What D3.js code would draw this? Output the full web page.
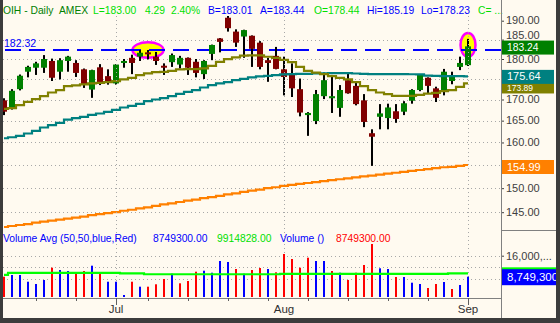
<!DOCTYPE html>
<html><head><meta charset="utf-8">
<script src="https://cdn.jsdelivr.net/npm/d3@7"></script>
<style>
body{margin:0;background:#FFFAF0}
svg{display:block}
text{font-family:"Liberation Sans",Arial,sans-serif}
</style>
</head><body>
<svg id="chart" width="560" height="323"></svg>
<script>
// ---------------- DATA ----------------
const dates = [
 "2007-06-12","2007-06-13","2007-06-14","2007-06-15","2007-06-18","2007-06-19","2007-06-20","2007-06-21","2007-06-22",
 "2007-06-25","2007-06-26","2007-06-27","2007-06-28","2007-06-29",
 "2007-07-02","2007-07-03","2007-07-05","2007-07-06","2007-07-09","2007-07-10","2007-07-11","2007-07-12","2007-07-13",
 "2007-07-16","2007-07-17","2007-07-18","2007-07-19","2007-07-20","2007-07-23","2007-07-24","2007-07-25","2007-07-26","2007-07-27",
 "2007-07-30","2007-07-31",
 "2007-08-01","2007-08-02","2007-08-03","2007-08-06","2007-08-07","2007-08-08","2007-08-09","2007-08-10",
 "2007-08-13","2007-08-14","2007-08-15","2007-08-16","2007-08-17","2007-08-20","2007-08-21","2007-08-22","2007-08-23","2007-08-24",
 "2007-08-27","2007-08-28","2007-08-29","2007-08-30","2007-08-31",
 "2007-09-04"];
const openP  = [169.8,167.9,172.5,176.8,177.8,177.8,179.5,176.8,179.5,179.0,177.4,172.4,177.9,175.7,173.9,179.0,180.3,180.6,181.7,180.6,178.3,179.2,178.6,180.3,179.3,176.2,181.3,185.3,190.8,187.1,185.8,186.0,184.2,179.7,180.8,177.4,176.0,172.5,166.3,164.9,170.8,170.3,168.0,174.7,173.3,169.8,162.1,165.9,165.6,167.2,167.1,169.7,172.3,175.3,172.7,172.1,174.5,178.0,178.44];
const highP  = [170.3,172.5,176.1,178.3,179.3,181.0,180.1,180.2,180.8,179.7,177.6,177.3,178.7,177.4,178.7,180.0,181.1,182.3,182.3,181.8,178.9,181.4,180.8,180.4,180.0,179.7,183.7,185.4,191.3,187.7,187.6,186.1,184.6,180.3,183.1,180.6,178.9,175.1,167.0,172.3,176.6,176.0,173.5,176.4,174.3,171.3,163.0,168.9,169.0,168.9,169.6,172.5,176.0,175.4,173.1,177.5,176.8,180.6,185.19];
const lowP   = [166.3,167.6,172.2,175.4,176.0,176.5,174.5,174.9,176.8,175.5,172.8,170.4,173.5,173.6,173.6,177.8,176.2,179.5,179.9,178.5,176.0,178.0,177.6,176.0,175.4,175.0,179.7,181.7,187.1,183.1,180.3,178.0,177.4,174.3,177.4,171.0,170.6,166.0,161.5,164.2,170.1,166.8,165.9,171.4,168.6,163.5,154.8,163.0,163.0,164.5,166.3,169.0,172.0,171.4,169.4,171.0,173.7,177.2,178.23];
const closeP = [167.1,172.1,175.8,178.0,178.9,180.0,175.3,179.7,180.6,176.5,173.6,177.2,174.2,174.5,178.6,179.5,179.0,181.6,181.2,179.5,177.8,181.0,180.3,177.8,176.5,179.5,183.6,184.4,188.0,184.2,187.5,182.6,178.0,179.0,177.5,175.5,172.7,166.9,166.8,171.3,174.7,170.8,172.3,171.5,168.9,164.7,161.3,166.7,168.1,165.4,169.1,172.3,176.0,173.3,170.4,176.8,175.5,179.0,183.24];
const volume = [8750000,9340000,9340000,7020000,6230000,7610000,11860000,11060000,10720000,10370000,10720000,12550000,9920000,7020000,7020000,2430000,7020000,5300000,5300000,6130000,7960000,9790000,6470000,7260000,10480000,10820000,10130000,14170000,13830000,11410000,9790000,11060000,11750000,11410000,10270000,16590000,14860000,11860000,15310000,14170000,14170000,10720000,10130000,7610000,10130000,12790000,20040000,11650000,11410000,8650000,8650000,6680000,6230000,4850000,6230000,6920000,4500000,5880000,8749300];
const sma20  = [167.76,167.93,168.64,169.43,170.08,170.8,171.69,172.25,173.23,173.4,173.65,173.89,174.04,174.21,174.46,174.88,175.27,175.95,176.37,176.7,176.78,177.02,177.38,177.45,177.45,177.62,178.28,179.29,179.98,180.41,180.84,180.94,180.94,180.58,180.31,179.8,179.21,178.02,177.02,176.58,176.2,175.7,175.27,174.88,174.21,173.23,172.25,171.69,171.28,170.87,170.87,170.87,171.11,171.44,171.59,172.0,172.25,173.06,173.89];
const sma50  = [160.95,161.18,161.48,162.03,162.62,163.41,163.94,164.47,165.26,165.57,165.87,166.35,166.67,167.05,167.52,168.09,168.47,168.95,169.6,170.0,170.32,170.8,171.35,171.84,172.25,172.91,173.47,173.89,174.21,174.71,175.03,175.38,175.63,175.77,175.95,176.12,176.2,176.28,176.28,176.4,176.42,176.45,176.45,176.43,176.35,176.25,176.22,176.2,176.2,176.2,176.18,176.17,176.15,175.85,175.75,175.72,175.7,175.68,175.64];
const sma200 = [142.0,142.2,142.4,142.6,142.9,143.1,143.3,143.5,143.7,143.9,144.1,144.4,144.6,144.8,145.0,145.3,145.5,145.8,146.0,146.3,146.6,146.8,147.1,147.4,147.6,147.9,148.1,148.4,148.7,148.9,149.2,149.5,149.7,150.0,150.2,150.5,150.7,150.9,151.1,151.3,151.5,151.7,151.9,152.1,152.3,152.5,152.7,152.9,153.1,153.3,153.5,153.7,153.9,154.1,154.3,154.5,154.6,154.8,154.99];
const volAvg = [9400000,10100000,10100000,10100000,10100000,10100000,10100000,10100000,10100000,10100000,10100000,10100000,10100000,10100000,10100000,9900000,9900000,9900000,9600000,9600000,9600000,9600000,9600000,9600000,9600000,9600000,9600000,9600000,9600000,9600000,9600000,9600000,9600000,9600000,9600000,9750000,9750000,9750000,9750000,9750000,9750000,9750000,9750000,9750000,9750000,9750000,9750000,9750000,9750000,9750000,9750000,9750000,9750000,9750000,9750000,9750000,9914828,9914828,9914828];

const priceTicks = [145,150,155,160,165,170,175,180,185,190];
const volTicks = [8000000,12000000,16000000];
const weekTicks = ["2007-06-18","2007-06-25","2007-07-02","2007-07-09","2007-07-16","2007-07-23","2007-07-30","2007-08-06","2007-08-13","2007-08-20","2007-08-27","2007-09-04"];
const monthStarts = ["2007-07-02","2007-08-01","2007-09-04"];
const monthLabels = ["Jul","Aug","Sep"];
const resistance = 182.32;
const highlights = [{date:"2007-07-09", price:182.3, days:2, ry:7.8}, {date:"2007-09-04", price:183.6, days:1, ry:12}];

const headerParts = [
 {t:"OIH - Daily", c:"#008000"}, {t:"AMEX", c:"#008000"},
 {t:"L=183.00", c:"#00E000"}, {t:"4.29", c:"#00E000"}, {t:"2.40%", c:"#00E000"},
 {t:"B=183.01", c:"#0000FF"}, {t:"A=183.44", c:"#0000FF"},
 {t:"O=178.44", c:"#00E000"}, {t:"Hi=185.19", c:"#0000FF"}, {t:"Lo=178.23", c:"#0000FF"}, {t:"C= ...", c:"#00E000"}];
const headerX = [3,59,93,145,171,208,260,314,367,421,478];

// ---------------- LAYOUT ----------------
const svg = d3.select("#chart");
const BG = "#FFFAF0";
const plotL = 3, plotR = 501;
const priceTop = 16, priceBot = 230, volTop = 230, volBot = 298;

svg.append("rect").attr("width",560).attr("height",323).attr("fill",BG);

const x = d3.scalePoint().domain(dates).range([4, 468]);
const y = d3.scaleLog().domain([145,190]).range([212.2, 20.7]);
const yv = d3.scaleLinear().domain([1740000, 16000000]).range([297, 255.7]);

const defs = svg.append("defs");
defs.append("clipPath").attr("id","cp").append("rect").attr("x",plotL).attr("y",priceTop).attr("width",plotR-plotL).attr("height",priceBot-priceTop);
defs.append("clipPath").attr("id","cv").append("rect").attr("x",plotL).attr("y",volTop).attr("width",plotR-plotL).attr("height",volBot-volTop);

const gridCol = "#A8A8A8";
const gp = svg.append("g").attr("clip-path","url(#cp)");
gp.selectAll("line.h").data(priceTicks.filter(d=>d<190)).join("line")
  .attr("x1",plotL).attr("x2",plotR).attr("y1",d=>Math.round(y(d))+0.5).attr("y2",d=>Math.round(y(d))+0.5)
  .attr("stroke",gridCol).attr("stroke-dasharray","1,3");
svg.append("g").selectAll("line").data(monthStarts).join("line")
  .attr("x1",d=>x(d)+0.5).attr("x2",d=>x(d)+0.5).attr("y1",priceTop).attr("y2",volBot)
  .attr("stroke",gridCol).attr("stroke-dasharray","1,3");
const gv = svg.append("g").attr("clip-path","url(#cv)");
gv.selectAll("line").data(volTicks).join("line")
  .attr("x1",plotL).attr("x2",plotR).attr("y1",d=>Math.round(yv(d))+0.5).attr("y2",d=>Math.round(yv(d))+0.5)
  .attr("stroke",gridCol).attr("stroke-dasharray","1,3");

// highlight ellipses (behind candles)
const step = x.step();
gp.selectAll("ellipse").data(highlights).join("ellipse")
  .attr("cx",d=>x(d.date)).attr("cy",d=>y(d.price))
  .attr("rx",d=>d.days*step-0.5).attr("ry",d=>d.ry)
  .attr("fill","#FFFF00").attr("stroke","#FF00FF").attr("stroke-width",2.5);

// resistance dashed line
gp.append("line").attr("x1",plotL).attr("x2",plotR)
  .attr("y1",y(resistance)).attr("y2",y(resistance))
  .attr("stroke","#0000FF").attr("stroke-width",2).attr("stroke-dasharray","16,8").attr("stroke-dashoffset",-2);
svg.append("text").attr("x",4).attr("y",y(resistance)-3).attr("font-size",10.5).attr("fill","#0000FF").text(resistance.toFixed(2));

// candles
const idx = d3.range(dates.length);
const cg = gp.append("g");
cg.selectAll("rect.w").data(idx).join("rect")
  .attr("x",i=>x(dates[i])-1).attr("width",2)
  .attr("y",i=>y(highP[i])).attr("height",i=>Math.max(1,y(lowP[i])-y(highP[i])))
  .attr("fill","#000");
cg.selectAll("rect.b").data(idx).join("rect")
  .attr("x",i=>x(dates[i])-3).attr("width",6)
  .attr("y",i=>y(Math.max(openP[i],closeP[i])))
  .attr("height",i=>Math.max(2,Math.abs(y(openP[i])-y(closeP[i]))))
  .attr("fill",i=>closeP[i]>=openP[i] ? "#008000" : "#800000");

// moving averages
const maLine = arr => d3.line().x((d,i)=>x(dates[i])).y(d=>y(d)).curve(d3.curveStep)(arr);
gp.append("path").attr("d",maLine(sma200)).attr("fill","none").attr("stroke","#FF8000").attr("stroke-width",2.2);
gp.append("path").attr("d",maLine(sma50)).attr("fill","none").attr("stroke","#008080").attr("stroke-width",2.2);
gp.append("path").attr("d",maLine(sma20)).attr("fill","none").attr("stroke","#808000").attr("stroke-width",2.2);

// volume bars
gv.selectAll("rect").data(idx).join("rect")
  .attr("x",i=>x(dates[i])-1).attr("width",2)
  .attr("y",i=>yv(volume[i])).attr("height",i=>297-yv(volume[i]))
  .attr("fill",i=>{const prev = i? closeP[i-1] : openP[0]; return closeP[i]>=prev ? "#0000FF" : "#FF0000";});
gv.append("path").attr("d",d3.line().x((d,i)=>x(dates[i])).y(d=>yv(d)).curve(d3.curveStep)(volAvg))
  .attr("fill","none").attr("stroke","#00FF00").attr("stroke-width",2.2);

// header
const hg = svg.append("g").attr("font-size",10.3);
headerParts.forEach((p,i)=>hg.append("text").attr("x",headerX[i]).attr("y",14).attr("fill",p.c).text(p.t));

// volume panel header
const vh = svg.append("g").attr("font-size",10.3);
vh.append("text").attr("x",3).attr("y",242).attr("fill","#0000FF").text("Volume Avg (50,50,blue,Red)");
vh.append("text").attr("x",153).attr("y",242).attr("fill","#0000FF").text(d3.format(".2f")(volume[volume.length-1]));
vh.append("text").attr("x",217).attr("y",242).attr("fill","#00E000").text(d3.format(".2f")(volAvg[volAvg.length-1]));
vh.append("text").attr("x",280).attr("y",242).attr("fill","#0000FF").text("Volume ()");
vh.append("text").attr("x",336).attr("y",242).attr("fill","#FF0000").text(d3.format(".2f")(volume[volume.length-1]));

// ---- value tags on the right axis ----
const ASC = 0.905, DESC = 0.212;   // font metrics used for label spacing
const tags = [
 {v:sma20[sma20.length-1],  c:"#808000", cy:y(sma20[sma20.length-1])+3,    fs:8.5,  base:4.2},
 {v:sma50[sma50.length-1],  c:"#008080", cy:y(sma50[sma50.length-1])+0.5,  fs:11,   base:3.6},
 {v:closeP[closeP.length-1],c:"#008000", cy:y(closeP[closeP.length-1])+1.2,fs:10.3, base:3.0},
 {v:sma200[sma200.length-1],c:"#FF8000", cy:y(sma200[sma200.length-1])+2, fs:11,   base:3.9}
];
// ticks whose labels sit under a tag are not labelled (they are hidden in the reference)
const labelTicks = priceTicks.filter(v=>!tags.some(t=>Math.abs(y(v)-t.cy)<5));
// label baseline: normally y+3.5; lifted above a tag box it would run into,
// or pushed just below the tag's text when it sits right under a tag
const LFS = 11;
const labelBaseline = v => {
  let b = y(v) + 3.5;
  tags.forEach(t=>{
    const top = t.cy-7;
    if (y(v) < t.cy && b+2.5 > top) b = Math.min(b, top-1.8);
    const textBottom = t.cy + t.base + DESC*t.fs;
    if (y(v) > t.cy && b - ASC*LFS < textBottom) b = Math.max(b, textBottom + ASC*LFS + 0.2);
  });
  return b;
};

const axCol = "#404040";
const ay = svg.append("g").attr("transform",`translate(${plotR},0)`)
  .call(d3.axisRight(y).tickValues(priceTicks).tickFormat(()=>null).tickSize(3));
ay.select(".domain").remove();
ay.selectAll("text").remove();
ay.selectAll("line").attr("stroke",axCol);
svg.append("g").attr("class","plabels").selectAll("text").data(labelTicks).join("text")
  .attr("x",plotR+5).attr("y",v=>labelBaseline(v))
  .attr("font-size",LFS).attr("fill",axCol).text(v=>d3.format(".2f")(v));

const avx = svg.append("g").attr("transform",`translate(${plotR},0)`)
  .call(d3.axisRight(yv).tickValues([16000000]).tickFormat(()=>"16,000,...").tickSize(3).tickPadding(2));
avx.select(".domain").remove();
avx.selectAll("line").attr("stroke",axCol);
avx.selectAll("text").attr("font-size",11).attr("fill",axCol).attr("font-family","Liberation Sans, Arial, sans-serif");

tags.forEach(t=>{
  svg.append("rect").attr("x",plotR+1).attr("y",t.cy-7).attr("width",52).attr("height",14).attr("fill",t.c);
  svg.append("text").attr("x",plotR+6).attr("y",t.cy+t.base).attr("font-size",t.fs).attr("fill","#fff").text(t.v.toFixed(2));
});

// volume tags: average tag (mostly hidden) then last volume tag
svg.append("rect").attr("x",plotR+1).attr("y",yv(volAvg[volAvg.length-1])-6).attr("width",54).attr("height",12).attr("fill","#00FF00");
svg.append("rect").attr("x",plotR+1).attr("y",yv(volume[volume.length-1])-7.5).attr("width",54).attr("height",16).attr("fill","#0000FF");
svg.append("text").attr("x",plotR+6).attr("y",yv(volume[volume.length-1])+4.5).attr("font-size",11.5).attr("fill","#fff").text(d3.format(",")(volume[volume.length-1]));

// x axis
svg.append("line").attr("x1",plotL).attr("x2",plotR).attr("y1",volBot+0.5).attr("y2",volBot+0.5).attr("stroke","#808080");
svg.append("g").selectAll("line").data(weekTicks).join("line")
  .attr("x1",d=>x(d)+0.5).attr("x2",d=>x(d)+0.5).attr("y1",volBot).attr("y2",d=>monthStarts.includes(d)?volBot+7:volBot+3)
  .attr("stroke","#606060");
svg.append("g").selectAll("text").data(monthStarts).join("text")
  .attr("x",d=>x(d)).attr("y",313).attr("text-anchor","middle").attr("font-size",11.5).attr("fill","#303030")
  .text((d,i)=>monthLabels[i]);

// frame
svg.append("line").attr("x1",plotR+0.5).attr("x2",plotR+0.5).attr("y1",0).attr("y2",318).attr("stroke","#808080");
svg.append("line").attr("x1",plotR).attr("x2",556).attr("y1",230.5).attr("y2",230.5).attr("stroke","#808080");
svg.append("rect").attr("x",0).attr("y",0).attr("width",3).attr("height",323).attr("fill","#3C3C3C");
svg.append("rect").attr("x",556).attr("y",0).attr("width",4).attr("height",323).attr("fill","#3C3C3C");
svg.append("rect").attr("x",0).attr("y",318).attr("width",560).attr("height",5).attr("fill","#3C3C3C");
</script>
</body></html>
